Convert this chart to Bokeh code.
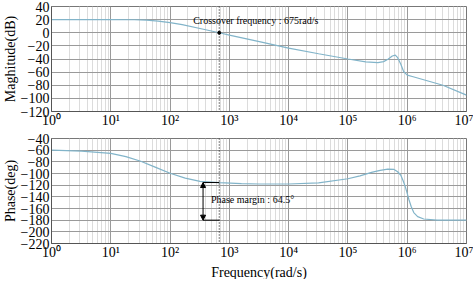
from bokeh.plotting import figure
from bokeh.layouts import column
from bokeh.models import (FixedTicker, CustomJSTickFormatter, Span, Arrow, NormalHead, Title)
from bokeh.embed import file_html
from bokeh.resources import INLINE

# ---- data ----
mag_freq = [1, 10, 25, 40, 63, 100, 160, 320, 675, 1000, 3200, 1e4, 3.2e4, 1e5,
            2e5, 3.2e5, 4e5, 4.8e5, 5.6e5, 6.3e5, 6.9e5, 7.8e5, 8.7e5, 1e6, 1.26e6, 4e6, 1e7]
mag_db = [20, 20, 19.8, 19.2, 17.8, 15.5, 12.5, 6.5, 0, -3.5, -13.5, -23.5, -32, -40,
          -44.5, -45.5, -44, -40, -35.5, -34, -38, -48, -59, -64.5, -67, -80, -95]

phase_freq = [1, 3.2, 10, 18, 32, 56, 100, 180, 320, 675, 1600, 3200, 1e4, 3.2e4, 1e5,
              1.6e5, 2.5e5, 3.5e5, 4.7e5, 6e5, 6.9e5, 7.8e5, 8.5e5, 9.3e5, 1e6, 1.07e6,
              1.17e6, 1.29e6, 1.5e6, 1.9e6, 3.2e6, 1e7]
phase_deg = [-60, -61.5, -65.5, -71, -79, -89, -99.5, -108, -113.5, -115.5, -117.5, -118,
             -118, -116, -109, -104, -98, -94.5, -92.5, -93, -97, -103, -112, -123, -134,
             -145, -157, -167, -174, -178, -180, -180]

x_ticks = [1, 10, 100, 1000, 10000, 100000, 1000000, 10000000]
x_tick_labels = ["10⁰", "10¹", "10²", "10³", "10⁴", "10⁵", "10⁶", "10⁷"]
mag_ticks = [-120, -100, -80, -60, -40, -20, 0, 20, 40]
phase_ticks = [-220, -200, -180, -160, -140, -120, -100, -80, -60, -40]

crossover_freq = 675
phase_margin = 64.5
pm_arrow_freq = 360

FONT = "Liberation Serif"
CURVE = "#82b4c9"
minor = [m * d for d in x_ticks[:-1] for m in range(2, 10)]


def style(p, yticks):
    p.xaxis.ticker = FixedTicker(ticks=x_ticks, minor_ticks=minor)
    p.xaxis.formatter = CustomJSTickFormatter(args=dict(labels=x_tick_labels, xt=x_ticks),
        code="const i = xt.findIndex(t => Math.abs(Math.log10(t) - Math.log10(tick)) < 1e-6); return i >= 0 ? labels[i] : '';")
    p.yaxis.ticker = FixedTicker(ticks=yticks)
    for ax in (p.xaxis[0], p.yaxis[0]):
        ax.major_label_text_font = FONT
        ax.major_label_text_font_size = "14px"
        ax.major_label_text_color = "black"
        ax.major_tick_line_color = None
        ax.minor_tick_line_color = None
        ax.major_tick_out = 0
        ax.minor_tick_out = 0
        ax.major_tick_in = 0
        ax.minor_tick_in = 0
        ax.axis_line_color = "#555555"
    p.xaxis.major_label_standoff = 1
    p.yaxis.major_label_standoff = 2
    p.xgrid.grid_line_color = "#9a9a9a"
    p.xgrid.minor_grid_line_color = "#dcdcdc"
    p.ygrid.grid_line_color = "#9a9a9a"
    p.outline_line_color = "#777777"
    p.background_fill_color = "white"
    p.border_fill_color = "white"


def side_title(p, text, place, offset=0):
    p.add_layout(Title(text=text, align="center", offset=offset, standoff=0,
                       text_font=FONT, text_font_size="14px", text_font_style="normal",
                       text_color="black"), place)


FW, FH = 415, 105

p1 = figure(frame_width=FW, frame_height=FH, x_axis_type="log", x_range=(1, 1e7),
            y_range=(-120, 40), output_backend="svg", toolbar_location=None,
            min_border_left=47, min_border_right=7, min_border_top=6, min_border_bottom=21)
style(p1, mag_ticks)
side_title(p1, "Maghitude(dB)", "left")
p1.line(mag_freq, mag_db, line_color=CURVE, line_width=1.2)
p1.add_layout(Span(location=crossover_freq, dimension="height", line_color="black",
                   line_dash="1 2", line_width=1))
p1.scatter([crossover_freq], [0], size=3, color="black")
p1.text([245], [18.5], text=["Crossover frequency : 675rad/s"], text_font_size="10px",
        text_baseline="middle", text_align="left", text_font={"value": FONT})

p2 = figure(frame_width=FW, frame_height=FH, x_axis_type="log", x_range=(1, 1e7),
            y_range=(-220, -40), output_backend="svg", toolbar_location=None,
            min_border_left=47, min_border_right=7, min_border_top=6, min_border_bottom=31)
style(p2, phase_ticks)
side_title(p2, "Phase(deg)", "left")
side_title(p2, "Frequency(rad/s)", "below", 16)
p2.line(phase_freq, phase_deg, line_color=CURVE, line_width=1.2)
p2.add_layout(Span(location=crossover_freq, dimension="height", line_color="black",
                   line_dash="1 2", line_width=1))
pm_phase = -180 + phase_margin
p2.segment([pm_arrow_freq, pm_arrow_freq], [pm_phase, -180], [crossover_freq, crossover_freq],
           [pm_phase, -180], line_color="black", line_width=1)
p2.add_layout(Arrow(start=NormalHead(size=5, fill_color="black", line_color="black"),
                    end=NormalHead(size=5, fill_color="black", line_color="black"),
                    x_start=pm_arrow_freq, y_start=pm_phase, x_end=pm_arrow_freq, y_end=-180,
                    line_color="black", line_width=1))
p2.text([488], [-144], text=["Phase margin : 64.5°"], text_font_size="10px",
        text_baseline="middle", text_align="left", text_font={"value": FONT})

layout = column(p1, p2, spacing=0)
open("out.html", "w").write(file_html(layout, INLINE))
